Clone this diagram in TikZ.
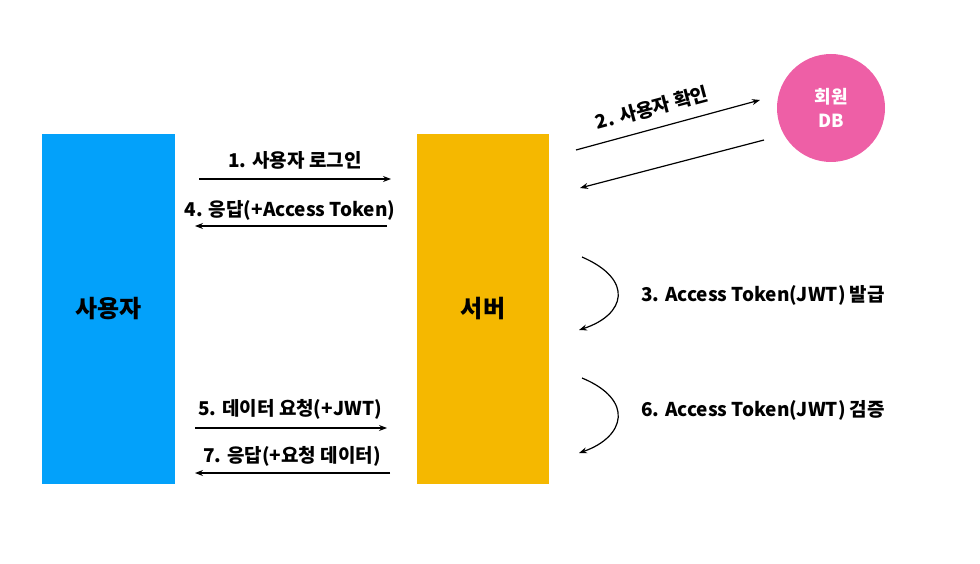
\documentclass[tikz,border=0pt]{standalone}
\usepackage{fontspec}
\setmainfont{Noto Sans CJK KR}
\usetikzlibrary{arrows.meta}
\definecolor{ublue}{HTML}{03A1FA}
\definecolor{syell}{HTML}{F5B800}
\definecolor{dbpink}{HTML}{EE5FA6}
\tikzset{
 lbl/.style={font=\bfseries\fontsize{19}{22}\selectfont, inner sep=1pt},
 arr/.style={-{Stealth[length=8pt,width=6pt]}, line width=1.2pt},
}
\begin{document}
\begin{tikzpicture}[x=1pt,y=-1pt]
\useasboundingbox (0,0) rectangle (980,564);
\node[fill=ublue, minimum width=133pt, minimum height=350pt, inner sep=0, font=\bfseries\fontsize{24}{28}\selectfont] (user) at (108.5,309) {사용자};
\node[fill=syell, minimum width=132pt, minimum height=350pt, inner sep=0, font=\bfseries\fontsize{24}{28}\selectfont] (srv) at (483,309) {서버};
\node[circle, fill=dbpink, text=white, minimum size=108pt, inner sep=0, align=center, font=\bfseries\fontsize{18}{24}\selectfont] (db) at (831,108) {회원\\DB};
\coordinate (a1s) at (199,179); \coordinate (a1e) at (391,179);
\coordinate (a4s) at (387,226); \coordinate (a4e) at (195,226);
\coordinate (a5s) at (195,428); \coordinate (a5e) at (387,428);
\coordinate (a7s) at (390,473); \coordinate (a7e) at (195,473);
\coordinate (a2s) at (576,150); \coordinate (a2e) at (760,100);
\coordinate (abs) at (764,140); \coordinate (abe) at (580,188);
\draw[arr] (a1s) -- (a1e);
\draw[arr] (a4s) -- (a4e);
\draw[arr] (a5s) -- (a5e);
\draw[arr] (a7s) -- (a7e);
\draw[arr] (a2s) -- (a2e);
\draw[arr] (abs) -- (abe);
\node[lbl] (l1) at (295,160) {1. 사용자 로그인};
\node[lbl] (l4) at (290,210) {4. 응답(+Access Token)};
\node[lbl] (l5) at (290,409) {5. 데이터 요청(+JWT)};
\node[lbl] (l7) at (292,456) {7. 응답(+요청 데이터)};
\node[lbl, rotate=15] (l2) at (652,108) {2. 사용자 확인};
\coordinate (c3s) at (582,257); \coordinate (c3e) at (579,330);
\coordinate (c6s) at (582,378); \coordinate (c6e) at (579,453);
\draw[arr] (c3s) .. controls (635,280) and (625,315) .. (c3e);
\draw[arr] (c6s) .. controls (635,400) and (625,437) .. (c6e);
\node[lbl, anchor=west] (l3) at (640,295) {3. Access Token(JWT) 발급};
\node[lbl, anchor=west] (l6) at (640,410) {6. Access Token(JWT) 검증};
\end{tikzpicture}
\end{document}
